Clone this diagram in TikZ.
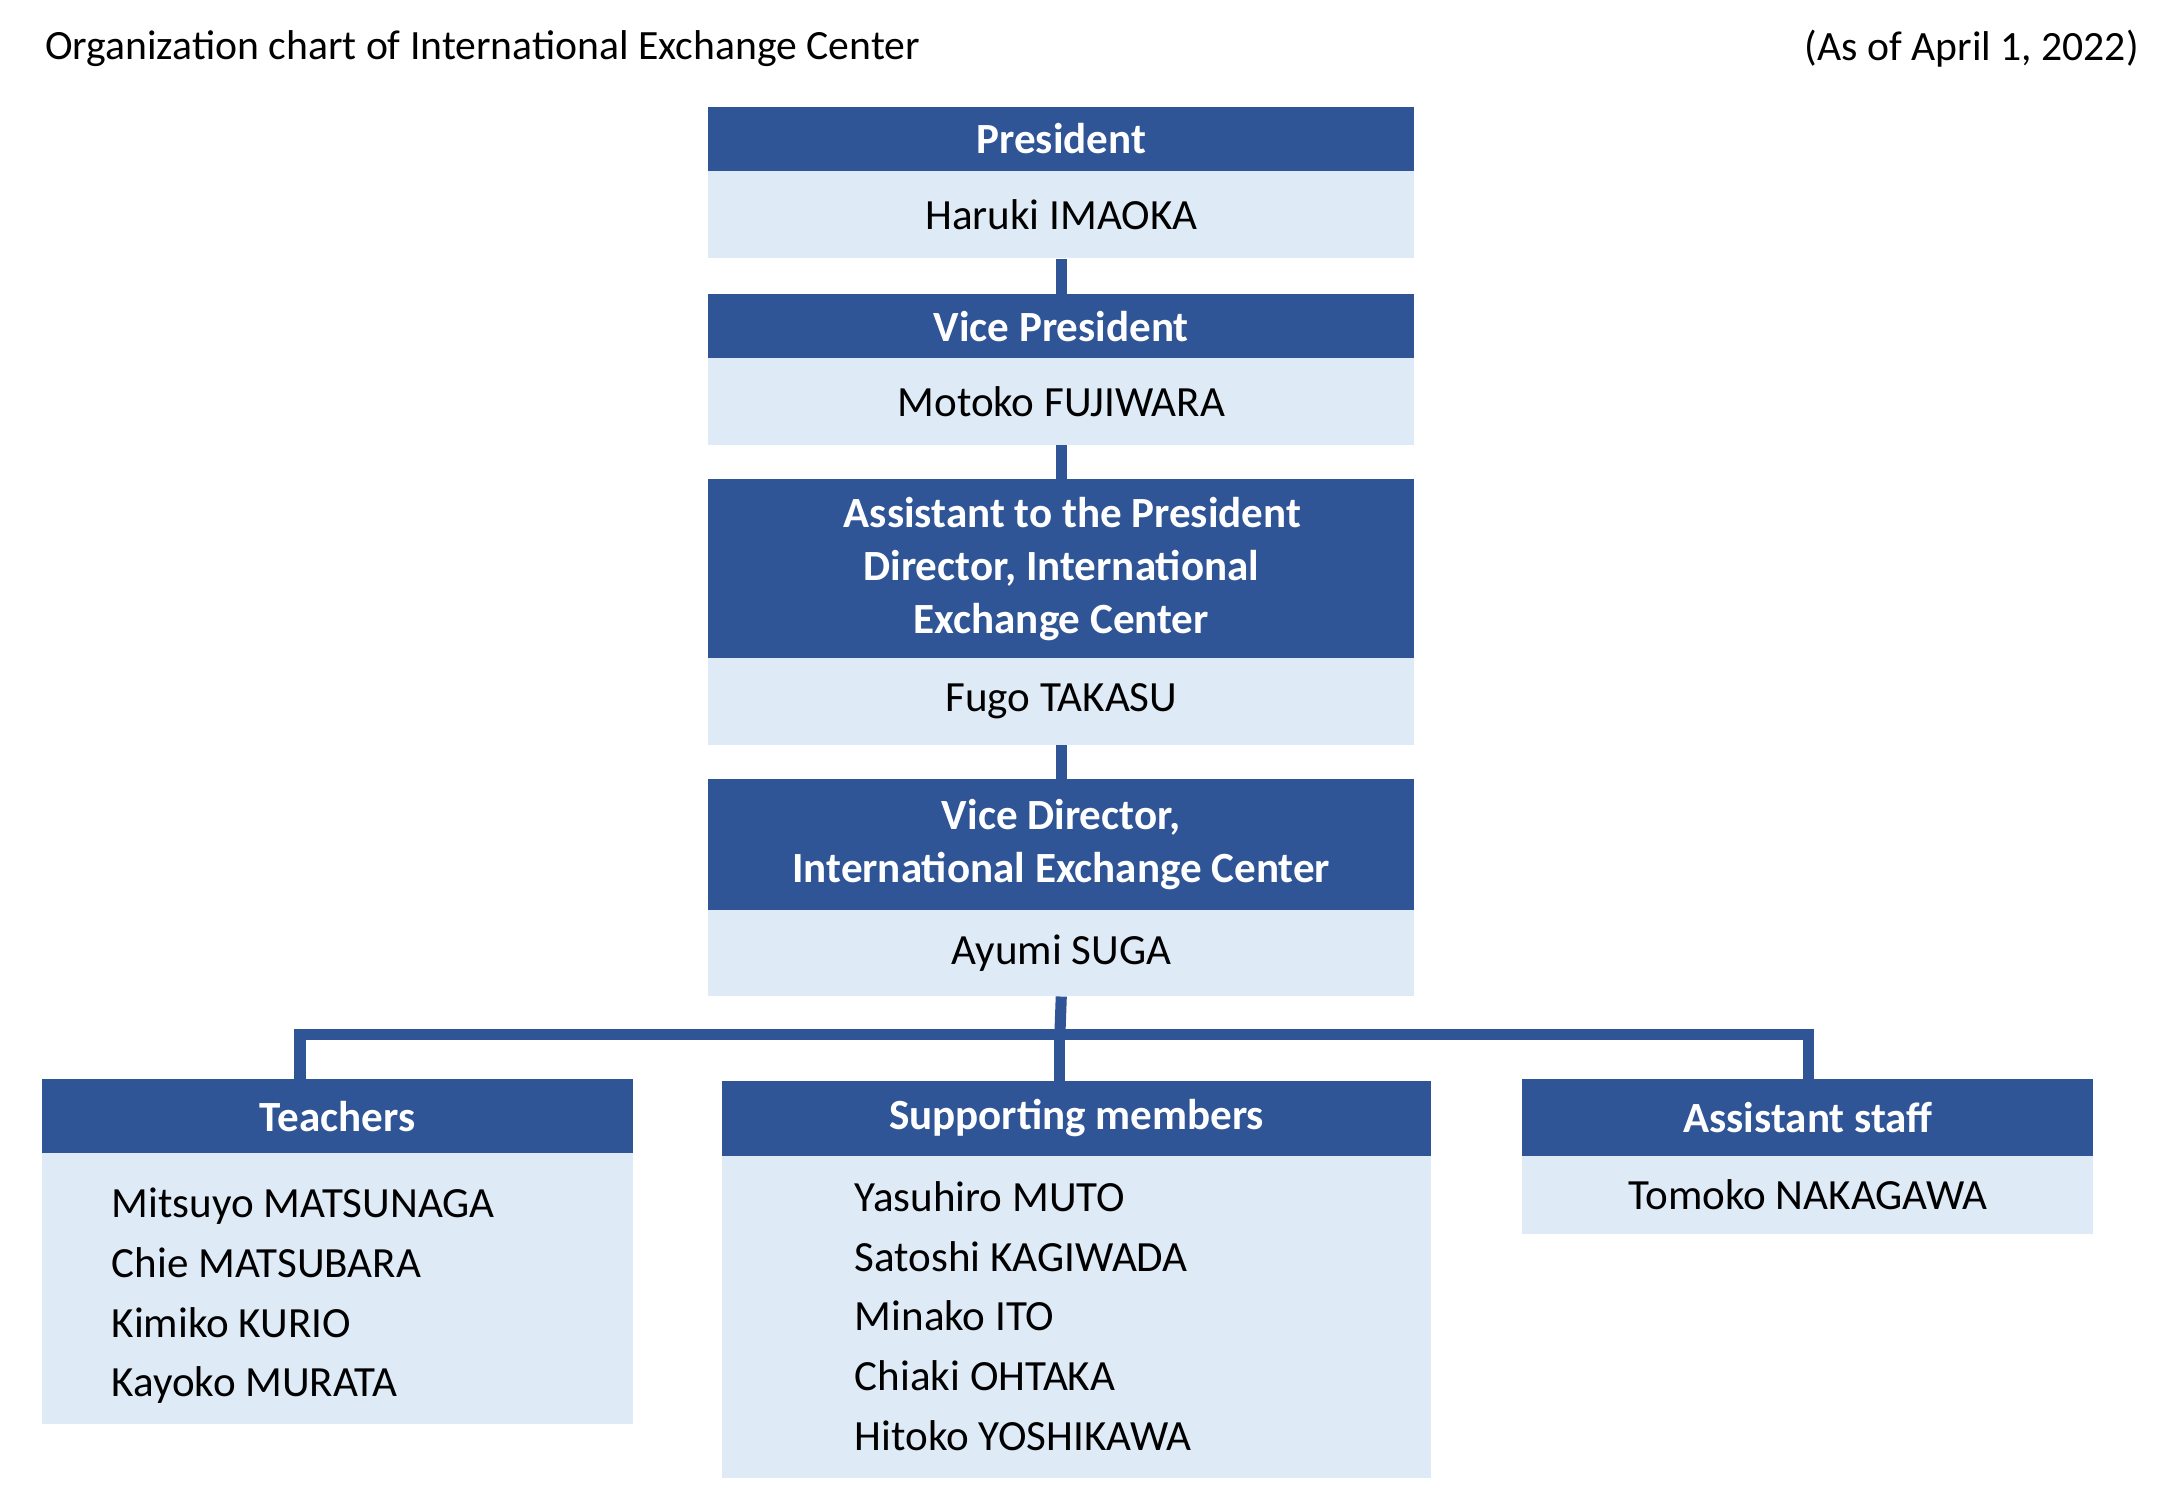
\documentclass[tikz,border=0pt]{standalone}
\usepackage{fontspec}
\setmainfont{Carlito}
\definecolor{hd}{HTML}{2F5597}
\definecolor{bd}{HTML}{DEEAF6}
\begin{document}
\begin{tikzpicture}[x=0.5pt,y=-0.5pt,
 hdr/.style={fill=hd,text=white,font=\fontsize{15.5}{19}\selectfont\bfseries,align=center,inner sep=0pt},
 bdy/.style={fill=bd,text=black,font=\fontsize{15.5}{19}\selectfont,align=center,inner sep=0pt},
 nm/.style={font=\fontsize{15.5}{21.5}\selectfont,align=left,anchor=west,inner sep=0pt},
 con/.style={draw=hd,line width=4pt}]
\useasboundingbox (0,0) rectangle (1560,1080);
\node[anchor=west,inner sep=0pt,font=\fontsize{15}{18}\selectfont] (title) at (32,35) {Organization chart of International Exchange Center};
\node[anchor=east,inner sep=0pt,font=\fontsize{15}{18}\selectfont] (date) at (1540,35) {(As of April 1, 2022)};
% center column
\node[bdy,minimum width=254pt,minimum height=31.5pt] (pb) at (764,154.5) {Haruki IMAOKA};
\node[hdr,minimum width=254pt,minimum height=23pt] (ph) at (764,100) {President};
\node[bdy,minimum width=254pt,minimum height=31pt] (vb) at (764,289) {Motoko FUJIWARA};
\node[hdr,minimum width=254pt,minimum height=23pt] (vh) at (764,235) {Vice President};
\node[bdy,minimum width=254pt,minimum height=31pt] (ab) at (764,505) {Fugo TAKASU};
\node[hdr,minimum width=254pt,minimum height=64.5pt] (ah) at (764,409.5) {\hspace*{8pt}Assistant to the President\\Director, International\\Exchange Center};
\node[bdy,minimum width=254pt,minimum height=31pt] (db) at (764,686) {Ayumi SUGA};
\node[hdr,minimum width=254pt,minimum height=47pt] (dh) at (764,608) {Vice Director,\\International Exchange Center};
% bottom
\node[bdy,minimum width=213pt,minimum height=97.5pt] (tb) at (243,927.5) {};
\node[hdr,minimum width=213pt,minimum height=26.5pt] (th) at (243,803.5) {Teachers};
\node[nm] (tn) at (80,933) {Mitsuyo MATSUNAGA\\Chie MATSUBARA\\Kimiko KURIO\\Kayoko MURATA};
\node[bdy,minimum width=255pt,minimum height=116pt] (sb) at (775,948) {};
\node[hdr,minimum width=255pt,minimum height=27pt] (sh) at (775,805) {Supporting members};
\node[nm] (sn) at (615,947.5) {Yasuhiro MUTO\\Satoshi KAGIWADA\\Minako ITO\\Chiaki OHTAKA\\Hitoko YOSHIKAWA};
\node[bdy,minimum width=205.5pt,minimum height=28pt] (ab2) at (1301.5,860) {Tomoko NAKAGAWA};
\node[hdr,minimum width=205.5pt,minimum height=27.5pt] (ah2) at (1301.5,804.5) {Assistant staff};
% connectors
\draw[con] (pb.south) -- (vh.north);
\draw[con] (vb.south) -- (ah.north);
\draw[con] (ab.south) -- (dh.north);
\coordinate (j) at (763,745);
\coordinate (jl) at (216,745);
\coordinate (jr) at (1302,745);
\draw[con] (db.south) -- (j);
\draw[con] (216,777) -- (jl) -- (jr) -- (1302,777);
\draw[con] (j) -- (763,778);
\end{tikzpicture}
\end{document}
